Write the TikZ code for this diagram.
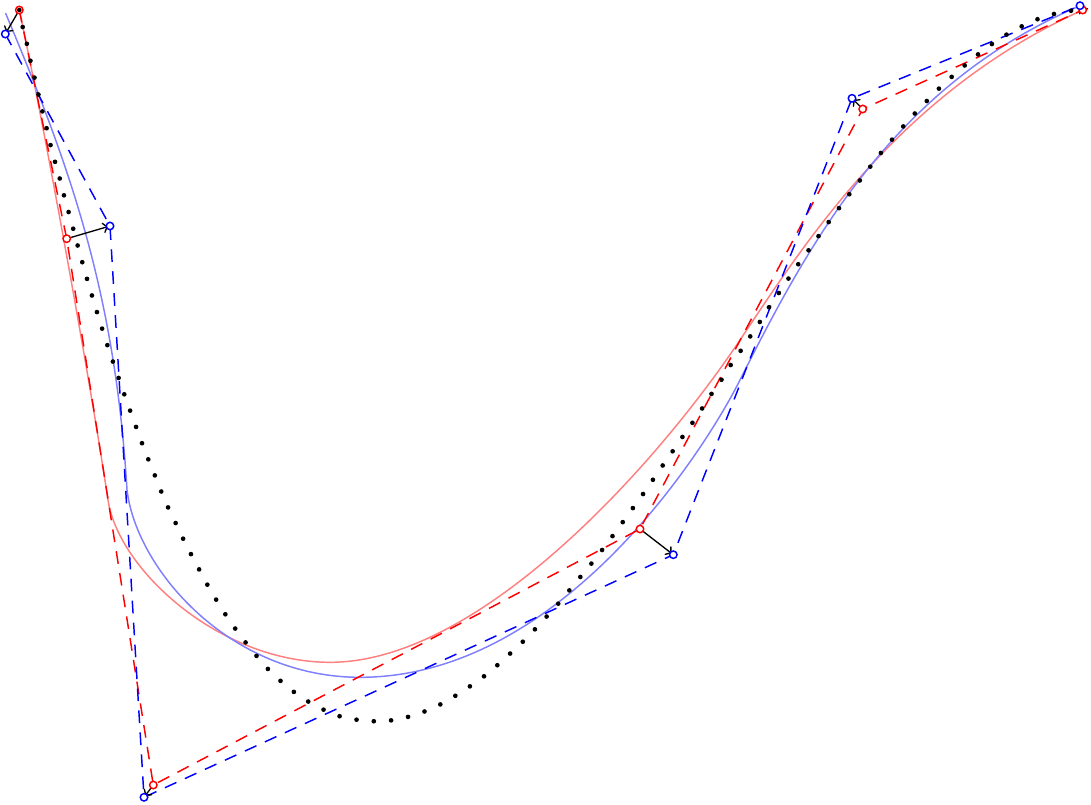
\documentclass[tikz,border=0pt]{standalone}
\usetikzlibrary{arrows.meta}
\begin{document}
\begin{tikzpicture}[x=0.75pt,y=-0.75pt,
  redcurve/.style={draw=red!50,line width=1.1pt},
  bluecurve/.style={draw=blue!50,line width=1.1pt},
  redpoly/.style={draw=red,line width=1.1pt,dash pattern=on 9.5pt off 7pt},
  bluepoly/.style={draw=blue,line width=1.1pt,dash pattern=on 9.5pt off 7pt},
  shiftarrow/.style={draw=black,line width=1pt,-{To[length=5.5pt,width=8pt]}},
  rpt/.style={circle,draw=red,fill=white,line width=1.1pt,inner sep=0pt,minimum size=5.6pt},
  bpt/.style={circle,draw=blue,fill=white,line width=1.1pt,inner sep=0pt,minimum size=5.6pt},
  dotcurve/.style={draw=black,line width=3.5pt,line cap=round,dash pattern=on 0pt off 13pt}]
\useasboundingbox (0,0) rectangle (1091,804);
% control points
\coordinate (R0) at (19.3,10);
\coordinate (R1) at (66.7,238.7);
\coordinate (R2) at (153.3,785);
\coordinate (R3) at (640,529);
\coordinate (R4) at (862.7,109);
\coordinate (R5) at (1082.7,10);
\coordinate (B0) at (5.3,34);
\coordinate (B1) at (110,226);
\coordinate (B2) at (144,797.3);
\coordinate (B3) at (673.3,554.7);
\coordinate (B4) at (852,98.3);
\coordinate (B5) at (1080,5.7);
\coordinate (BS) at (5.5,13);
% curves
\draw[redcurve] (R0) .. controls (45,130) and (90,380) .. (108,500)
  .. controls (118.5,570) and (220,662.3) .. (330,662.3)
  .. controls (480,662.3) and (656.6,464.7) .. (740,340)
  .. controls (806.7,240.3) and (900.7,92) .. (R5);
\draw[bluecurve] (BS) .. controls (68.5,163) and (115,290) .. (127,490)
  .. controls (136.6,570) and (230,677.3) .. (360,677.3)
  .. controls (560,677.3) and (704.2,451.5) .. (740,380)
  .. controls (811.7,237) and (896.2,84.5) .. (B5);
% control polygons
\draw[redpoly] (R0) -- (R1) -- (R2) -- (R3) -- (R4) -- (R5);
\draw[bluepoly] (B0) -- (B1) -- (B2) -- (B3) -- (B4) -- (B5);
% displacement arrows
\foreach \i in {0,...,5}{\draw[shiftarrow] (R\i) -- (B\i);}
% point markers
\foreach \i in {0,...,5}{\node[rpt] (r\i) at (R\i) {};}
\foreach \i in {0,...,5}{\node[bpt] (b\i) at (B\i) {};}
% dotted curve
\draw[dotcurve] plot[smooth,tension=0.5] coordinates {(19.3,10) (22.7,27) (27,44.3) (30.7,62) (35,79.7) (39,97) (43,114) (47.3,131) (51.3,148.3) (56,165.3) (60.7,182) (65,199.3) (70,217) (74.7,234.3) (79.3,251.7) (84,268.3) (89,285.7) (94,302.3) (99.3,319.7) (104.7,336.7) (110,353.3) (116,370.3) (121.7,387) (127.7,404) (133.7,420.3) (139.7,437) (146,453.7) (152.7,470) (159.3,486.7) (166,503) (173.7,519) (181.3,535) (189.3,551) (197.7,566.7) (206,582.3) (215,597.7) (224.3,612.7) (234.3,627.3) (245,641.7) (256,655.3) (267.7,668.7) (280.7,681) (294,692) (309,702) (324.3,710) (341,716.7) (358.7,720) (376.3,721.3) (394,720) (411.3,716) (428.3,710) (444,702.5) (459.3,693.3) (474.3,683.3) (488.7,672.7) (502,661) (515.3,648.7) (528,636.7) (540,623.7) (552.3,610.3) (564,597) (575,583.3) (586.7,569.3) (597.7,555.7) (608.3,541.7) (619,527.3) (629.3,513) (640,498.3) (650,484) (660,469.3) (670.3,454.7) (680.3,440) (690.7,425.3) (700.7,410.7) (710,396) (720.7,381) (730,366) (740,351.7) (750,336.7) (760,321.7) (769.3,306.7) (779.3,292.3) (789.3,277.3) (799.3,262.7) (810,248.3) (820,234) (830.7,219.3) (841.3,205) (851.7,191) (862.7,176.7) (873.3,162.7) (884.3,148.7) (896,135) (907.3,121.7) (919.3,108.7) (931.7,96) (944.3,83.3) (957.7,71.7) (971,60) (985,49) (999.3,39) (1014.7,30) (1030.7,22) (1047.3,15.7) (1064.7,11.7) (1082.7,9.3)};
\end{tikzpicture}
\end{document}
